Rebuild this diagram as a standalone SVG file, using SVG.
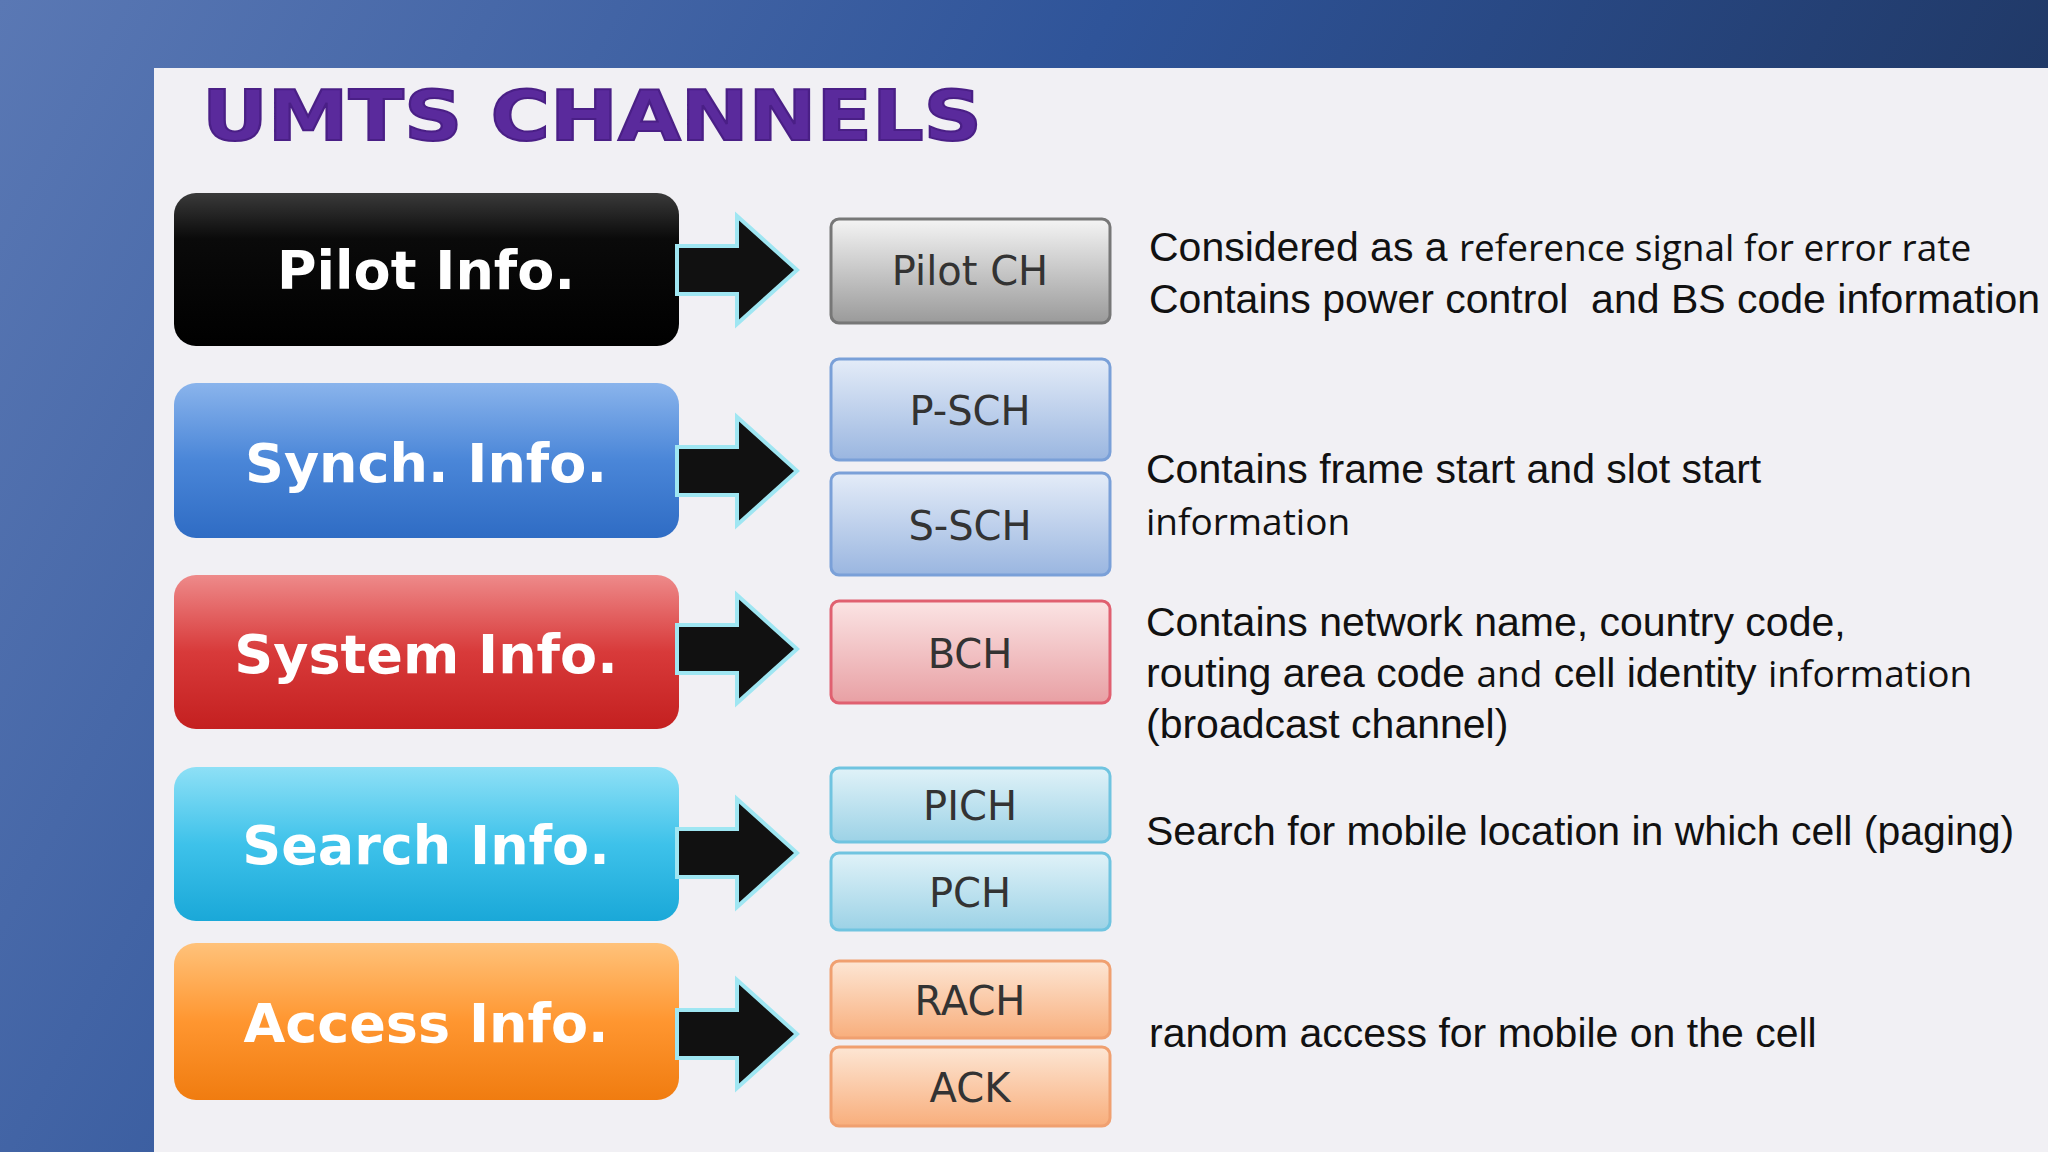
<svg xmlns="http://www.w3.org/2000/svg" width="2048" height="1152" viewBox="0 0 2048 1152">
<defs>
<linearGradient id="bg" x1="0" y1="0" x2="1" y2="0.3"><stop offset="0" stop-color="#5a78b4"/><stop offset="0.5" stop-color="#2f5499"/><stop offset="1" stop-color="#1e3560"/></linearGradient>
<linearGradient id="gBlack" x1="0" y1="0" x2="0" y2="1"><stop offset="0" stop-color="#3a3a3a"/><stop offset="0.3" stop-color="#0a0a0a"/><stop offset="1" stop-color="#000"/></linearGradient>
<linearGradient id="gBlue" x1="0" y1="0" x2="0" y2="1"><stop offset="0" stop-color="#8ab4ec"/><stop offset="0.5" stop-color="#4a86d8"/><stop offset="1" stop-color="#2f6cc4"/></linearGradient>
<linearGradient id="gRed" x1="0" y1="0" x2="0" y2="1"><stop offset="0" stop-color="#ee8a8a"/><stop offset="0.5" stop-color="#d83a3a"/><stop offset="1" stop-color="#c42020"/></linearGradient>
<linearGradient id="gCyan" x1="0" y1="0" x2="0" y2="1"><stop offset="0" stop-color="#8ee0f6"/><stop offset="0.5" stop-color="#3ec2ea"/><stop offset="1" stop-color="#1aa8d8"/></linearGradient>
<linearGradient id="gOrange" x1="0" y1="0" x2="0" y2="1"><stop offset="0" stop-color="#ffc27a"/><stop offset="0.5" stop-color="#ff9630"/><stop offset="1" stop-color="#f07c10"/></linearGradient>
<linearGradient id="sGray" x1="0" y1="0" x2="0" y2="1"><stop offset="0" stop-color="#f4f4f4"/><stop offset="1" stop-color="#9a9a9a"/></linearGradient>
<linearGradient id="sBlue" x1="0" y1="0" x2="0" y2="1"><stop offset="0" stop-color="#e4ecf8"/><stop offset="1" stop-color="#9ab6e0"/></linearGradient>
<linearGradient id="sRed" x1="0" y1="0" x2="0" y2="1"><stop offset="0" stop-color="#fbe4e4"/><stop offset="1" stop-color="#e8a0a4"/></linearGradient>
<linearGradient id="sCyan" x1="0" y1="0" x2="0" y2="1"><stop offset="0" stop-color="#e0f2f8"/><stop offset="1" stop-color="#9cd2e6"/></linearGradient>
<linearGradient id="sOrange" x1="0" y1="0" x2="0" y2="1"><stop offset="0" stop-color="#fde6d4"/><stop offset="1" stop-color="#f8ae7c"/></linearGradient>
<path id="arr" d="M0,-24 H60 V-54 L120,0 L60,54 V24 H0 Z"/>
</defs>
<style>
.big{font-family:"DejaVu Sans",Verdana,sans-serif;font-weight:bold;font-size:54px;fill:#fff;text-anchor:middle}
.sm{font-family:"DejaVu Sans",Verdana,sans-serif;font-size:40px;fill:#333;text-anchor:middle}
.d{font-family:"Liberation Sans",Arial,sans-serif;font-size:41px;fill:#111}
.o{font-family:"Open Sans","Liberation Sans",sans-serif;font-size:37px}
.arrow{fill:#111;stroke:#9fe6f2;stroke-width:4}
</style>
<rect width="2048" height="1152" fill="url(#bg)"/>
<rect x="154" y="68" width="1894" height="1084" fill="#f1f0f4"/>
<text x="202" y="140" textLength="780" lengthAdjust="spacingAndGlyphs" font-family="'DejaVu Sans',Verdana,sans-serif" font-weight="bold" font-size="70" fill="#5a2a9c" stroke="#4a1f86" stroke-width="2">UMTS CHANNELS</text>
<g id="pilot"><rect x="174" y="193" width="505" height="153" rx="22" fill="url(#gBlack)"/><text class="big" x="426" y="289">Pilot Info.</text></g>
<g id="synch"><rect x="174" y="383" width="505" height="155" rx="22" fill="url(#gBlue)"/><text class="big" x="426" y="482">Synch. Info.</text></g>
<g id="system"><rect x="174" y="575" width="505" height="154" rx="22" fill="url(#gRed)"/><text class="big" x="426" y="673">System Info.</text></g>
<g id="search"><rect x="174" y="767" width="505" height="154" rx="22" fill="url(#gCyan)"/><text class="big" x="426" y="864">Search Info.</text></g>
<g id="access"><rect x="174" y="943" width="505" height="157" rx="22" fill="url(#gOrange)"/><text class="big" x="426" y="1042">Access Info.</text></g>
<g id="connectors">
<use href="#arr" class="arrow" transform="translate(677,270)"/>
<use href="#arr" class="arrow" transform="translate(677,471)"/>
<use href="#arr" class="arrow" transform="translate(677,649)"/>
<use href="#arr" class="arrow" transform="translate(677,853)"/>
<use href="#arr" class="arrow" transform="translate(677,1034)"/>
</g>
<g id="pilotch"><rect x="831" y="219" width="279" height="104" rx="8" fill="url(#sGray)" stroke="#777" stroke-width="3"/><text class="sm" x="970" y="285">Pilot CH</text></g>
<g id="psch"><rect x="831" y="359" width="279" height="101" rx="8" fill="url(#sBlue)" stroke="#7aa0d8" stroke-width="3"/><text class="sm" x="970" y="425">P-SCH</text></g>
<g id="ssch"><rect x="831" y="473" width="279" height="102" rx="8" fill="url(#sBlue)" stroke="#7aa0d8" stroke-width="3"/><text class="sm" x="970" y="540">S-SCH</text></g>
<g id="bch"><rect x="831" y="601" width="279" height="102" rx="8" fill="url(#sRed)" stroke="#e06070" stroke-width="3"/><text class="sm" x="970" y="668">BCH</text></g>
<g id="pich"><rect x="831" y="768" width="279" height="74" rx="8" fill="url(#sCyan)" stroke="#70c4e0" stroke-width="3"/><text class="sm" x="970" y="820">PICH</text></g>
<g id="pch"><rect x="831" y="853" width="279" height="77" rx="8" fill="url(#sCyan)" stroke="#70c4e0" stroke-width="3"/><text class="sm" x="970" y="907">PCH</text></g>
<g id="rach"><rect x="831" y="961" width="279" height="77" rx="8" fill="url(#sOrange)" stroke="#f0a070" stroke-width="3"/><text class="sm" x="970" y="1015">RACH</text></g>
<g id="ack"><rect x="831" y="1047" width="279" height="79" rx="8" fill="url(#sOrange)" stroke="#f0a070" stroke-width="3"/><text class="sm" x="970" y="1102">ACK</text></g>
<text class="d" x="1149" y="261">Considered as a <tspan class="o">reference signal for error rate</tspan></text>
<text class="d" x="1149" y="313" xml:space="preserve">Contains power control  and BS code information</text>
<text class="d" x="1146" y="483">Contains frame start and slot start</text>
<text class="d o" x="1146" y="535">information</text>
<text class="d" x="1146" y="636">Contains network name, country code,</text>
<text class="d" x="1146" y="687">routing area code <tspan class="o">and</tspan> cell identity <tspan class="o">information</tspan></text>
<text class="d" x="1146" y="738">(broadcast channel)</text>
<text class="d" x="1146" y="845">Search for mobile location in which cell (paging)</text>
<text class="d" x="1149" y="1047">random access for mobile on the cell</text>
</svg>
